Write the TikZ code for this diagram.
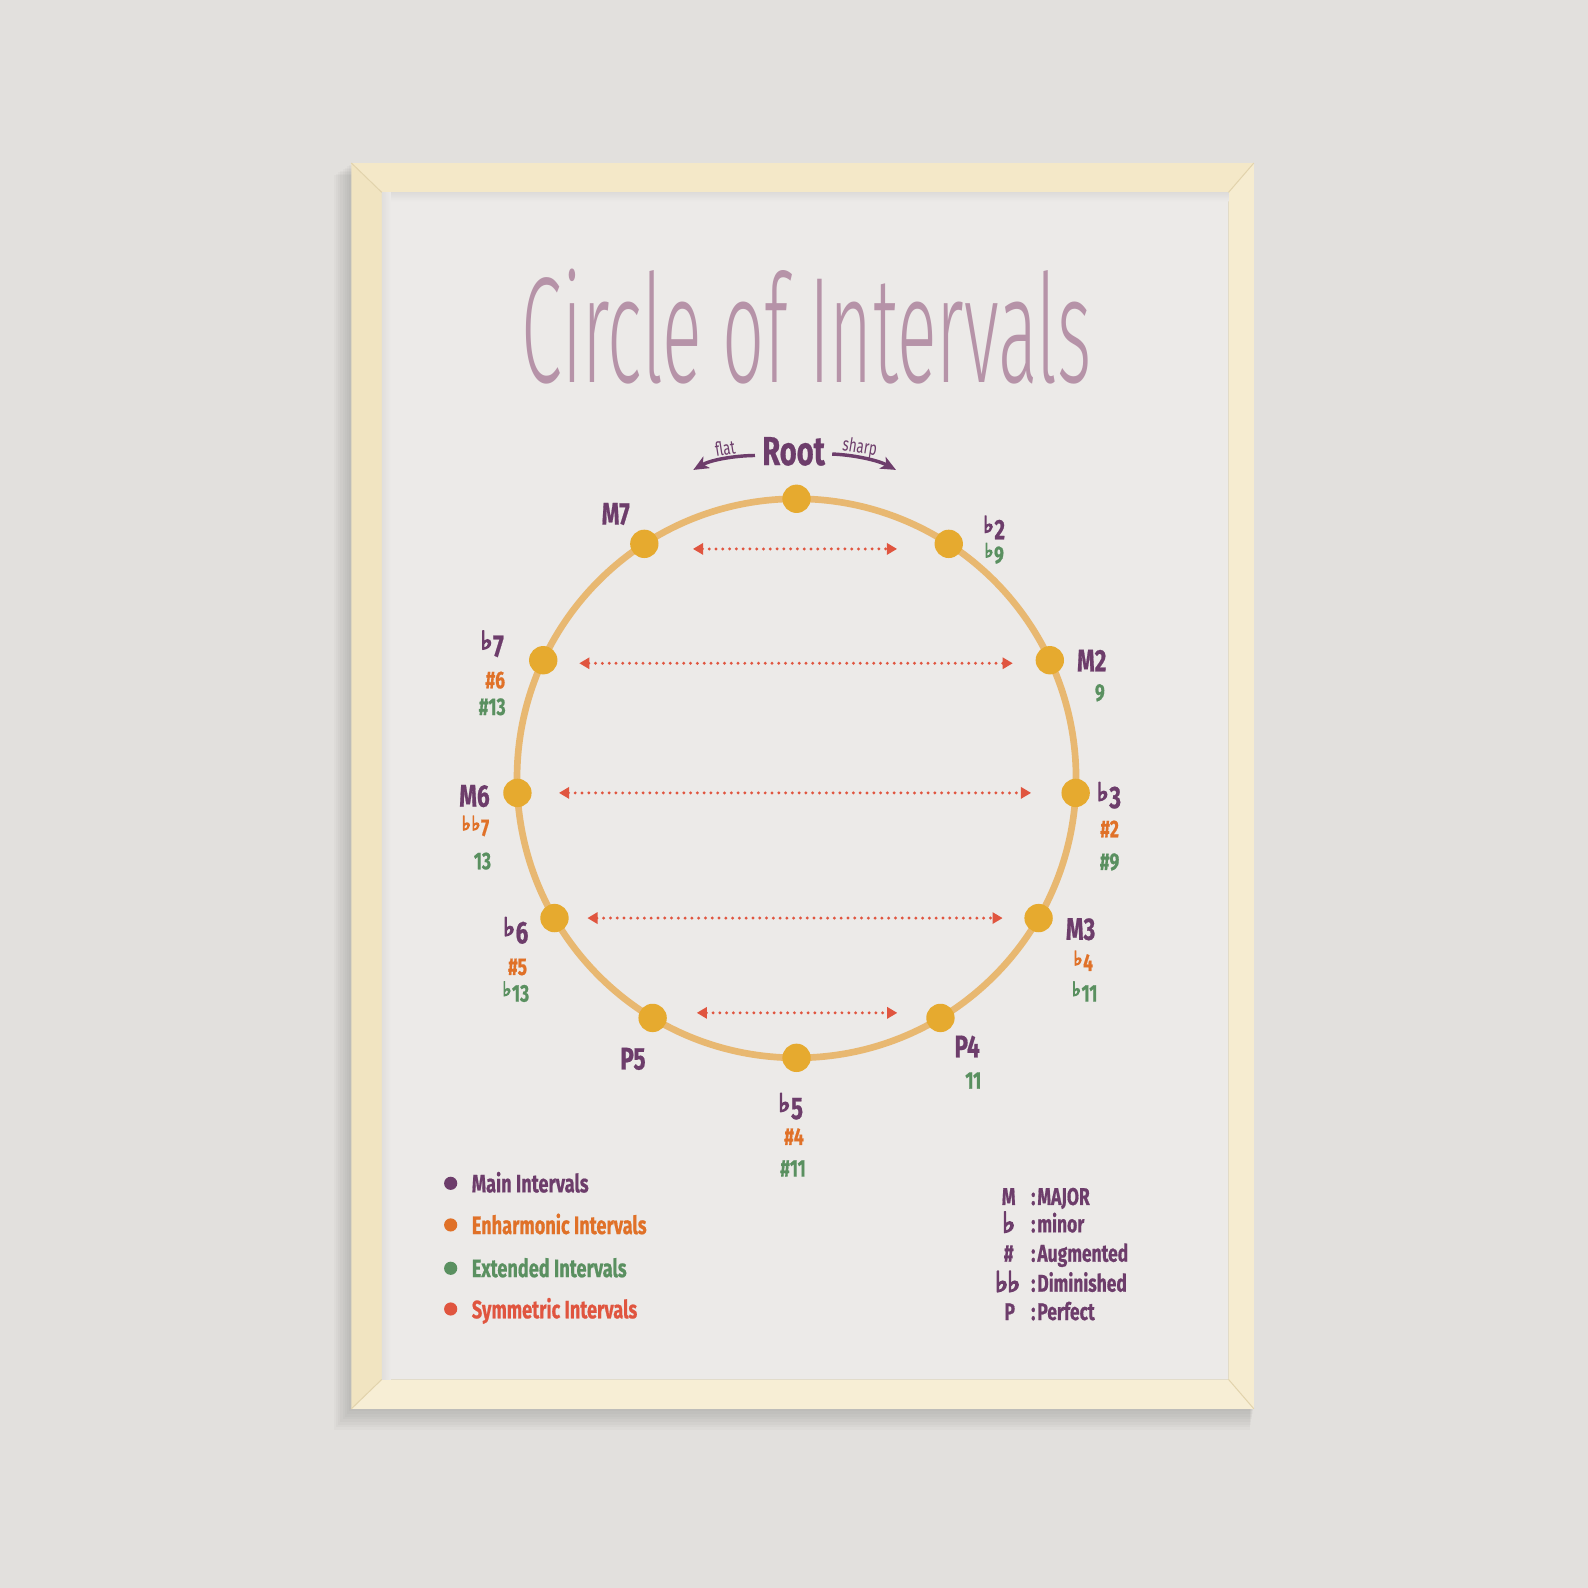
\documentclass[tikz,border=0pt]{standalone}
\usepackage{graphicx}
\usepackage{fontspec}
\setmainfont{Fira Sans}
\newfontfamily\labfont[FakeStretch=0.72,FakeBold=0.6]{Fira Sans}
\newfontfamily\titlefont{Fira Sans Light}
\newfontfamily\thinfont[FakeStretch=0.7]{Fira Sans}
\newfontfamily\symfont[FakeBold=6]{DejaVu Sans}
\usetikzlibrary{arrows.meta}
\definecolor{wall}{RGB}{226,224,221}
\definecolor{poster}{RGB}{236,234,232}
\definecolor{frT}{RGB}{244,232,200}
\definecolor{frL}{RGB}{241,228,193}
\definecolor{frR}{RGB}{246,236,208}
\definecolor{frB}{RGB}{247,238,213}
\definecolor{frEdge}{RGB}{226,211,172}
\definecolor{purp}{RGB}{109,61,107}
\definecolor{oran}{RGB}{224,113,40}
\definecolor{gree}{RGB}{90,144,96}
\definecolor{redd}{RGB}{224,85,63}
\definecolor{ringc}{RGB}{232,184,113}
\definecolor{dotc}{RGB}{230,170,47}
\definecolor{titlec}{RGB}{182,147,168}
\newcommand\fl{\raisebox{0.24em}{\scalebox{0.8}{\symfont\mdseries ♭}}\kern0.02em}
\newcommand\bigfl{{\symfont\mdseries ♭}}
\tikzset{
  mainlab/.style={font=\labfont\bfseries\fontsize{31}{31}\selectfont, text=purp, inner sep=0pt, anchor=base},
  enhlab/.style={font=\labfont\bfseries\fontsize{24}{24}\selectfont, text=oran, inner sep=0pt, anchor=base},
  extlab/.style={font=\labfont\bfseries\fontsize{24}{24}\selectfont, text=gree, inner sep=0pt, anchor=base},
  legtext/.style={font=\labfont\bfseries\fontsize{25}{25}\selectfont, inner sep=0pt, anchor=base west},
  keysym/.style={font=\labfont\bfseries\fontsize{24}{24}\selectfont, text=purp, inner sep=0pt, anchor=base},
  keytext/.style={font=\labfont\bfseries\fontsize{24}{24}\selectfont, text=purp, inner sep=0pt, anchor=base west},
  dotn/.style={circle, fill=dotc, minimum size=28bp, inner sep=0pt},
  legdot/.style={circle, minimum size=13bp, inner sep=0pt},
  symarrow/.style={draw=redd, line width=3.2bp, line cap=round, dash pattern=on 0bp off 6.7bp,
     {Triangle[length=10bp,width=11bp,line cap=butt]}-{Triangle[length=10bp,width=11bp,line cap=butt]}},
  rootarrow/.style={draw=purp, line width=3.4bp, -{Stealth[length=15bp,width=13bp,inset=4bp]}},
}
\begin{document}
\begin{tikzpicture}[x=1bp,y=-1bp]
\useasboundingbox (0,0) rectangle (1568,1568);
% wall
\fill[wall] (0,0) rectangle (1568,1568);
% shadow of frame
\foreach \i in {1,...,8}{
  \fill[black, opacity=0.018] (347-\i*2.2,161+\i*1.5) rectangle (1238-\i*0.5,1391+\i*2.6);
}
% frame
\fill[frT] (347,161) -- (1238,161) -- (1213,190) -- (377,190) -- cycle;
\fill[frL] (347,161) -- (377,190) -- (377,1362) -- (347,1391) -- cycle;
\fill[frR] (1238,161) -- (1238,1391) -- (1213,1362) -- (1213,190) -- cycle;
\fill[frB] (347,1391) -- (377,1362) -- (1213,1362) -- (1238,1391) -- cycle;
\draw[frEdge, line width=1bp] (347,161) -- (377,190) (1238,161) -- (1213,190) (347,1391) -- (377,1362) (1238,1391) -- (1213,1362);
% poster
\fill[poster] (377,190) rectangle (1213,1362);
\shade[top color=black!6!poster, bottom color=poster] (377,190) rectangle (1213,199);
\shade[left color=black!5!poster, right color=poster] (377,190) rectangle (386,1362);

% title
\node[anchor=base west, inner sep=0pt, text=titlec] (title) at (515,378)
  {\resizebox{563bp}{112bp}{\titlefont Circle of Intervals}};

% ring
\draw[ringc, line width=6.6bp] (786.5,768.5) circle[radius=276];

% dots
\node[dotn] (d0) at (786.5,492.5) {};
\node[dotn] (d1) at (936.8,537.0) {};
\node[dotn] (d2) at (1036.6,651.9) {};
\node[dotn] (d3) at (1062.1,782.9) {};
\node[dotn] (d4) at (1025.5,906.5) {};
\node[dotn] (d5) at (928.6,1005.1) {};
\node[dotn] (d6) at (786.5,1044.5) {};
\node[dotn] (d7) at (644.4,1005.1) {};
\node[dotn] (d8) at (547.5,906.5) {};
\node[dotn] (d9) at (510.9,782.9) {};
\node[dotn] (d10) at (536.4,651.9) {};
\node[dotn] (d11) at (636.2,537.0) {};

% symmetric arrows
\draw[symarrow, shorten <=48bp, shorten >=51bp] ([yshift=-5bp]d11.center) -- ([yshift=-5bp]d1.center);
\draw[symarrow, shorten <=35.6bp, shorten >=36.6bp] ([yshift=-3bp]d10.center) -- ([yshift=-3bp]d2.center);
\draw[symarrow, shorten <=41bp, shorten >=44bp] (d9.center) -- (d3.center);
\draw[symarrow, shorten <=32.5bp, shorten >=35.5bp] (d8.center) -- (d4.center);
\draw[symarrow, shorten <=43.6bp, shorten >=42.6bp] ([yshift=5bp]d7.center) -- ([yshift=5bp]d5.center);

% root
\node[font=\labfont\bfseries\fontsize{40}{40}\selectfont, text=purp, anchor=base, inner ysep=0pt, inner xsep=7bp] (root) at (783.6,459.2) {Root};
\coordinate (flatTip) at (684.6,464);
\coordinate (sharpTip) at (884.7,464);
\draw[rootarrow] ([yshift=-4bp]root.west) .. controls (725,450) and (702,454) .. (flatTip);
\draw[rootarrow] ([yshift=-2.6bp]root.east) .. controls (841,449) and (866,454) .. (sharpTip);
\node[font=\thinfont\fontsize{19}{19}\selectfont, text=purp, rotate=9, inner sep=0pt] (flatlab) at (716,442.7) {flat};
\node[font=\thinfont\fontsize{19}{19}\selectfont, text=purp, rotate=-9, inner sep=0pt] (sharplab) at (849,442.5) {sharp};

% interval labels
\node[mainlab] (lM7) at (608,518) {M7};
\node[mainlab, font=\labfont\bfseries\fontsize{28}{28}\selectfont] (lb2) at (981.6,532.5) {\fl2};
\node[extlab] (lb9) at (981.6,556) {\fl9};
\node[mainlab] (lM2) at (1078,663) {M2};
\node[extlab] (l9) at (1086,692) {9};
\node[mainlab] (lb3) at (1095,798) {\fl3};
\node[enhlab] (ls2) at (1095.6,826.7) {\#2};
\node[extlab] (ls9) at (1095.6,859) {\#9};
\node[mainlab] (lM3) at (1067,928) {M3};
\node[enhlab] (lb4) at (1069.6,958.7) {\fl4};
\node[extlab] (lb11) at (1071,989) {\fl11};
\node[mainlab] (lP4) at (955,1044) {P4};
\node[extlab] (l11) at (961,1075) {11};
\node[mainlab] (lb5) at (780.8,1105) {\fl5};
\node[enhlab] (ls4) at (784,1130.5) {\#4};
\node[extlab] (ls11) at (783,1161.8) {\#11};
\node[mainlab] (lP5) at (625,1056) {P5};
\node[mainlab] (lb6) at (509.3,931.4) {\fl6};
\node[enhlab] (ls5) at (511,962.7) {\#5};
\node[extlab] (lb13) at (509.3,989) {\fl13};
\node[mainlab] (lM6) at (468.5,796.5) {M6};
\node[enhlab] (lbb7) at (469.5,825.4) {\fl\fl7};
\node[extlab] (l13) at (476.4,858.3) {13};
\node[mainlab] (lb7) at (486,648.4) {\fl7};
\node[enhlab] (ls6) at (489,679.6) {\#6};
\node[extlab] (ls13) at (486,706) {\#13};

% legend
\node[legdot, fill=purp] (g1) at (445,1168.4) {};
\node[legdot, fill=oran] (g2) at (445,1209.5) {};
\node[legdot, fill=gree] (g3) at (445,1252.3) {};
\node[legdot, fill=redd] (g4) at (445,1292.5) {};
\node[legtext, text=purp] (t1) at (465.7,1177.3) {Main Intervals};
\node[legtext, text=oran] (t2) at (465.7,1218.5) {Enharmonic Intervals};
\node[legtext, text=gree] (t3) at (465.7,1261) {Extended Intervals};
\node[legtext, text=redd] (t4) at (465.7,1301.7) {Symmetric Intervals};

% key
\node[keysym] (k1) at (996,1189.8) {M};
\node[keysym] (k2) at (996,1216.8) {\scalebox{1.15}{\bigfl}};
\node[keysym] (k3) at (996,1245.8) {\#};
\node[keysym] (k4) at (995,1275.4) {\scalebox{1.15}{\bigfl\kern-0.04em\bigfl}};
\node[keysym] (k5) at (997,1303.4) {P};
\node[keytext] (m1) at (1018,1189.8) {:\kern2bp MAJOR};
\node[keytext] (m2) at (1018,1216.8) {:\kern2bp minor};
\node[keytext] (m3) at (1018,1245.8) {:\kern2bp Augmented};
\node[keytext] (m4) at (1018,1275.4) {:\kern2bp Diminished};
\node[keytext] (m5) at (1018,1303.4) {:\kern2bp Perfect};
\end{tikzpicture}
\end{document}
